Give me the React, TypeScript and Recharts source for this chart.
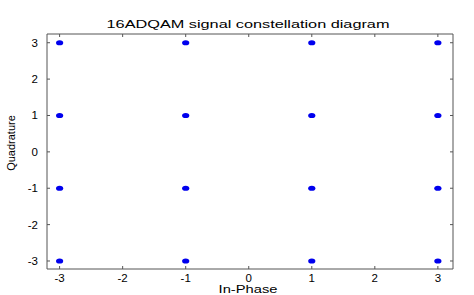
import React from 'react';
import { ScatterChart, Scatter, XAxis, YAxis } from 'recharts';

const xTicks = [-3, -2, -1, 0, 1, 2, 3];
const yTicks = [-3, -2, -1, 0, 1, 2, 3];
const constellation = [
  { i: -3, q: 3 }, { i: -1, q: 3 }, { i: 1, q: 3 }, { i: 3, q: 3 },
  { i: -3, q: 1 }, { i: -1, q: 1 }, { i: 1, q: 1 }, { i: 3, q: 1 },
  { i: -3, q: -1 }, { i: -1, q: -1 }, { i: 1, q: -1 }, { i: 3, q: -1 },
  { i: -3, q: -3 }, { i: -1, q: -3 }, { i: 1, q: -3 }, { i: 3, q: -3 },
];
const titleText = '16ADQAM signal constellation diagram';
const xLabel = 'In-Phase';
const yLabel = 'Quadrature';

const FONT = '"Liberation Sans", Arial, sans-serif';
const AX = '#555';
const TL = 3;

const BottomTick = (p: any) => (
  <g>
    <line x1={p.x} y1={p.y} x2={p.x} y2={p.y - TL} stroke={AX} strokeWidth={1} />
    <text x={p.x} y={p.y + 8.5} textAnchor="middle" dominantBaseline="central" fontSize={11.5} fontFamily={FONT} fill="#000">
      {p.payload.value}
    </text>
  </g>
);
const TopTick = (p: any) => (
  <line x1={p.x} y1={p.y} x2={p.x} y2={p.y + TL} stroke={AX} strokeWidth={1} />
);
const LeftTick = (p: any) => (
  <g>
    <line x1={p.x} y1={p.y} x2={p.x + TL} y2={p.y} stroke={AX} strokeWidth={1} />
    <text x={p.x - 9} y={p.y} textAnchor="end" dominantBaseline="central" fontSize={11.5} fontFamily={FONT} fill="#000">
      {p.payload.value}
    </text>
  </g>
);
const RightTick = (p: any) => (
  <line x1={p.x} y1={p.y} x2={p.x - TL} y2={p.y} stroke={AX} strokeWidth={1} />
);

const Dot = (p: any) => <ellipse cx={p.cx} cy={p.cy} rx={3.6} ry={2.6} fill="#0000ee" />;
const Nothing = () => <g />;

export default function App() {
  return (
    <div style={{ position: 'absolute', left: 0, top: 0, width: 474, height: 295, background: '#fff' }}>
      <ScatterChart width={474} height={295} margin={{ top: 33, right: 20, bottom: 0, left: 0 }}>
        <XAxis
          xAxisId={0}
          dataKey="i"
          type="number"
          domain={[-3.2, 3.24]}
          ticks={xTicks}
          allowDataOverflow
          orientation="bottom"
          height={26}
          tickSize={0}
          tickMargin={0}
          tick={BottomTick}
          axisLine={{ stroke: AX }}
          label={{
            content: () => (
              <text transform="translate(248 289) scale(1.4 1)" textAnchor="middle" dominantBaseline="central" fontSize={10.5} fontFamily={FONT} fill="#000">
                {xLabel}
              </text>
            ),
          }}
        />
        <XAxis
          xAxisId="top"
          dataKey="i"
          type="number"
          domain={[-3.2, 3.24]}
          ticks={xTicks}
          allowDataOverflow
          orientation="top"
          height={1}
          tickSize={0}
          tickMargin={0}
          tick={TopTick}
          axisLine={{ stroke: AX }}
          label={{
            content: () => (
              <text transform="translate(248 24) scale(1.48 1)" textAnchor="middle" dominantBaseline="central" fontSize={11} fontFamily={FONT} fill="#000">
                {titleText}
              </text>
            ),
          }}
        />
        <YAxis
          yAxisId={0}
          dataKey="q"
          type="number"
          domain={[-3.22, 3.24]}
          ticks={yTicks}
          allowDataOverflow
          orientation="left"
          width={47}
          tickSize={0}
          tickMargin={0}
          tick={LeftTick}
          axisLine={{ stroke: AX }}
          label={{
            content: () => (
              <text transform="translate(11 143) rotate(-90)" textAnchor="middle" dominantBaseline="central" fontSize={11} fontFamily={FONT} fill="#000">
                {yLabel}
              </text>
            ),
          }}
        />
        <YAxis
          yAxisId="right"
          dataKey="q"
          type="number"
          domain={[-3.22, 3.24]}
          ticks={yTicks}
          allowDataOverflow
          orientation="right"
          width={1}
          tickSize={0}
          tickMargin={0}
          tick={RightTick}
          axisLine={{ stroke: AX }}
        />
        <Scatter data={constellation} xAxisId={0} yAxisId={0} shape={Dot} isAnimationActive={false} />
        <Scatter data={constellation} xAxisId="top" yAxisId="right" shape={Nothing} isAnimationActive={false} />
      </ScatterChart>
    </div>
  );
}
